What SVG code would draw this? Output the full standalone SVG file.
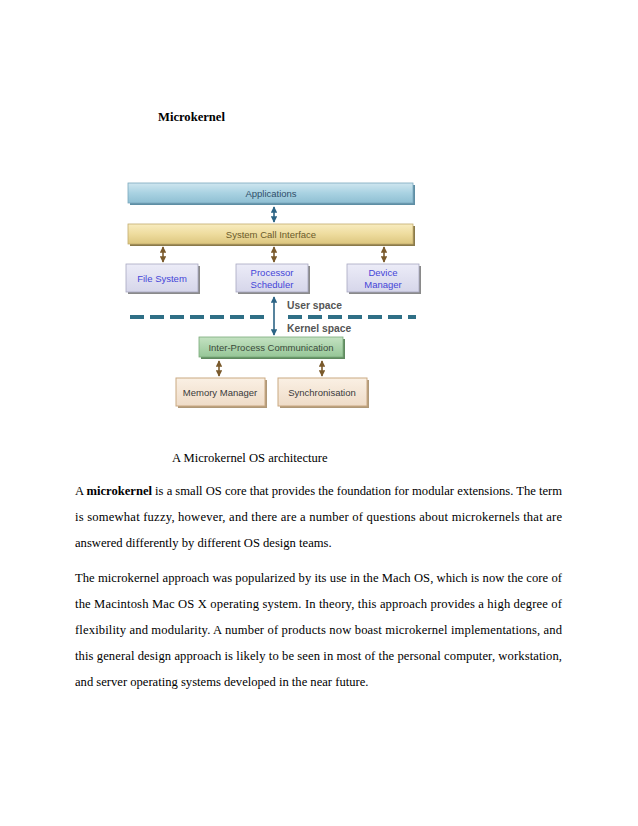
<svg xmlns="http://www.w3.org/2000/svg" width="638" height="826" viewBox="0 0 638 826">
<defs>
<linearGradient id="gApp" x1="0" y1="0" x2="0" y2="1"><stop offset="0" stop-color="#cfe6ef"/><stop offset="0.5" stop-color="#a9d2e2"/><stop offset="1" stop-color="#8fbfd3"/></linearGradient>
<linearGradient id="gSci" x1="0" y1="0" x2="0" y2="1"><stop offset="0" stop-color="#f8ecc0"/><stop offset="0.5" stop-color="#eedc9e"/><stop offset="1" stop-color="#dcc67f"/></linearGradient>
<linearGradient id="gMod" x1="0" y1="0" x2="0" y2="1"><stop offset="0" stop-color="#ececf8"/><stop offset="1" stop-color="#d6d6ea"/></linearGradient>
<linearGradient id="gIpc" x1="0" y1="0" x2="0" y2="1"><stop offset="0" stop-color="#c4e2c2"/><stop offset="1" stop-color="#96c697"/></linearGradient>
<linearGradient id="gKer" x1="0" y1="0" x2="0" y2="1"><stop offset="0" stop-color="#faf0e4"/><stop offset="1" stop-color="#efdcc8"/></linearGradient>
<marker id="aB" viewBox="0 0 10 10" refX="9" refY="5" markerWidth="4" markerHeight="4" orient="auto-start-reverse"><path d="M0,0 L10,5 L0,10 z" fill="#2c6485"/></marker>
<marker id="aR" viewBox="0 0 10 10" refX="9" refY="5" markerWidth="4" markerHeight="4" orient="auto-start-reverse"><path d="M0,0 L10,5 L0,10 z" fill="#7a5a2c"/></marker>
</defs>
<style>
.t{font-family:"Liberation Serif","Times New Roman",serif;font-size:12.6px;fill:#000}
.d{font-family:"Liberation Sans",Arial,sans-serif;font-size:9.5px;text-anchor:middle}
.sh{fill:#8a8a8a}
.cb{stroke:#2c6485;stroke-width:1.6;fill:none}
.cr{stroke:#7a5a2c;stroke-width:1.6;fill:none}
.lbl{font-family:"Liberation Sans",Arial,sans-serif;font-size:10.3px;font-weight:bold;fill:#555}
</style>
<rect width="638" height="826" fill="#fff"/>
<text class="t" x="158" y="121" font-weight="bold" font-size="15.5px">Microkernel</text>

<g id="applications">
<rect x="130" y="185" width="285" height="20" fill="#5e8ea4"/>
<rect x="128" y="183" width="285" height="20" fill="url(#gApp)" stroke="#7aa9bd" stroke-width="0.8"/>
<text class="d" x="271" y="196.5" fill="#2f4f6a">Applications</text>
</g>
<g id="sci">
<rect x="130" y="226" width="285" height="20" fill="#8a7a4a"/>
<rect x="128" y="224" width="285" height="20" fill="url(#gSci)" stroke="#c2ac6e" stroke-width="0.8"/>
<text class="d" x="271" y="237.5" fill="#6a5a2a">System Call Interface</text>
</g>
<g id="filesystem">
<rect x="128" y="266" width="72" height="28" class="sh"/>
<rect x="126" y="264" width="72" height="28" fill="url(#gMod)" stroke="#a8a8c0" stroke-width="0.8"/>
<text class="d" x="162" y="281.5" fill="#4545d8">File System</text>
</g>
<g id="scheduler">
<rect x="238" y="266" width="72" height="28" class="sh"/>
<rect x="236" y="264" width="72" height="28" fill="url(#gMod)" stroke="#a8a8c0" stroke-width="0.8"/>
<text class="d" x="272" y="276" fill="#4545d8">Processor</text>
<text class="d" x="272" y="287.5" fill="#4545d8">Scheduler</text>
</g>
<g id="device">
<rect x="349" y="266" width="72" height="28" class="sh"/>
<rect x="347" y="264" width="72" height="28" fill="url(#gMod)" stroke="#a8a8c0" stroke-width="0.8"/>
<text class="d" x="383" y="276" fill="#4545d8">Device</text>
<text class="d" x="383" y="287.5" fill="#4545d8">Manager</text>
</g>
<g id="ipc">
<rect x="201" y="339" width="144" height="20" fill="#5f8a5f"/>
<rect x="199" y="337" width="144" height="20" fill="url(#gIpc)" stroke="#7aaa7a" stroke-width="0.8"/>
<text class="d" x="271" y="350.5" fill="#3a4a3a">Inter-Process Communication</text>
</g>
<g id="memory">
<rect x="178" y="380" width="89" height="28" fill="#b09878"/>
<rect x="176" y="378" width="89" height="28" fill="url(#gKer)" stroke="#caa982" stroke-width="1"/>
<text class="d" x="220" y="395.5" fill="#3a3a3a">Memory Manager</text>
</g>
<g id="sync">
<rect x="280" y="380" width="89" height="28" fill="#b09878"/>
<rect x="278" y="378" width="89" height="28" fill="url(#gKer)" stroke="#caa982" stroke-width="1"/>
<text class="d" x="322" y="395.5" fill="#3a3a3a">Synchronisation</text>
</g>

<g id="boundary">
<line x1="130" y1="317" x2="264" y2="317" stroke="#2f6f86" stroke-width="4" stroke-dasharray="14,6"/>
<line x1="288" y1="317" x2="416" y2="317" stroke="#2f6f86" stroke-width="4" stroke-dasharray="14,6"/>
<text class="lbl" x="287" y="309">User space</text>
<text class="lbl" x="287" y="332">Kernel space</text>
</g>

<g id="connectors">
<line class="cb" x1="274" y1="207" x2="274" y2="222" marker-start="url(#aB)" marker-end="url(#aB)"/>
<line class="cr" x1="163" y1="247" x2="163" y2="262" marker-start="url(#aR)" marker-end="url(#aR)"/>
<line class="cr" x1="274" y1="247" x2="274" y2="262" marker-start="url(#aR)" marker-end="url(#aR)"/>
<line class="cr" x1="384" y1="247" x2="384" y2="262" marker-start="url(#aR)" marker-end="url(#aR)"/>
<line class="cb" x1="274" y1="297" x2="274" y2="335" marker-start="url(#aB)" marker-end="url(#aB)"/>
<line class="cr" x1="219" y1="361" x2="219" y2="376" marker-start="url(#aR)" marker-end="url(#aR)"/>
<line class="cr" x1="322" y1="361" x2="322" y2="376" marker-start="url(#aR)" marker-end="url(#aR)"/>
</g>

<text class="t" x="172" y="462">A Microkernel OS architecture</text>

<text class="t" x="75" y="495" textLength="487" lengthAdjust="spacing">A <tspan font-weight="bold">microkernel</tspan> is a small OS core that provides the foundation for modular extensions. The term</text>
<text class="t" x="75" y="521" textLength="487" lengthAdjust="spacing">is somewhat fuzzy, however, and there are a number of questions about microkernels that are</text>
<text class="t" x="75" y="547">answered differently by different OS design teams.</text>

<text class="t" x="75" y="582" textLength="487" lengthAdjust="spacing">The microkernel approach was popularized by its use in the Mach OS, which is now the core of</text>
<text class="t" x="75" y="608" textLength="487" lengthAdjust="spacing">the Macintosh Mac OS X operating system. In theory, this approach provides a high degree of</text>
<text class="t" x="75" y="634" textLength="487" lengthAdjust="spacing">flexibility and modularity. A number of products now boast microkernel implementations, and</text>
<text class="t" x="75" y="660" textLength="487" lengthAdjust="spacing">this general design approach is likely to be seen in most of the personal computer, workstation,</text>
<text class="t" x="75" y="686">and server operating systems developed in the near future.</text>
</svg>
